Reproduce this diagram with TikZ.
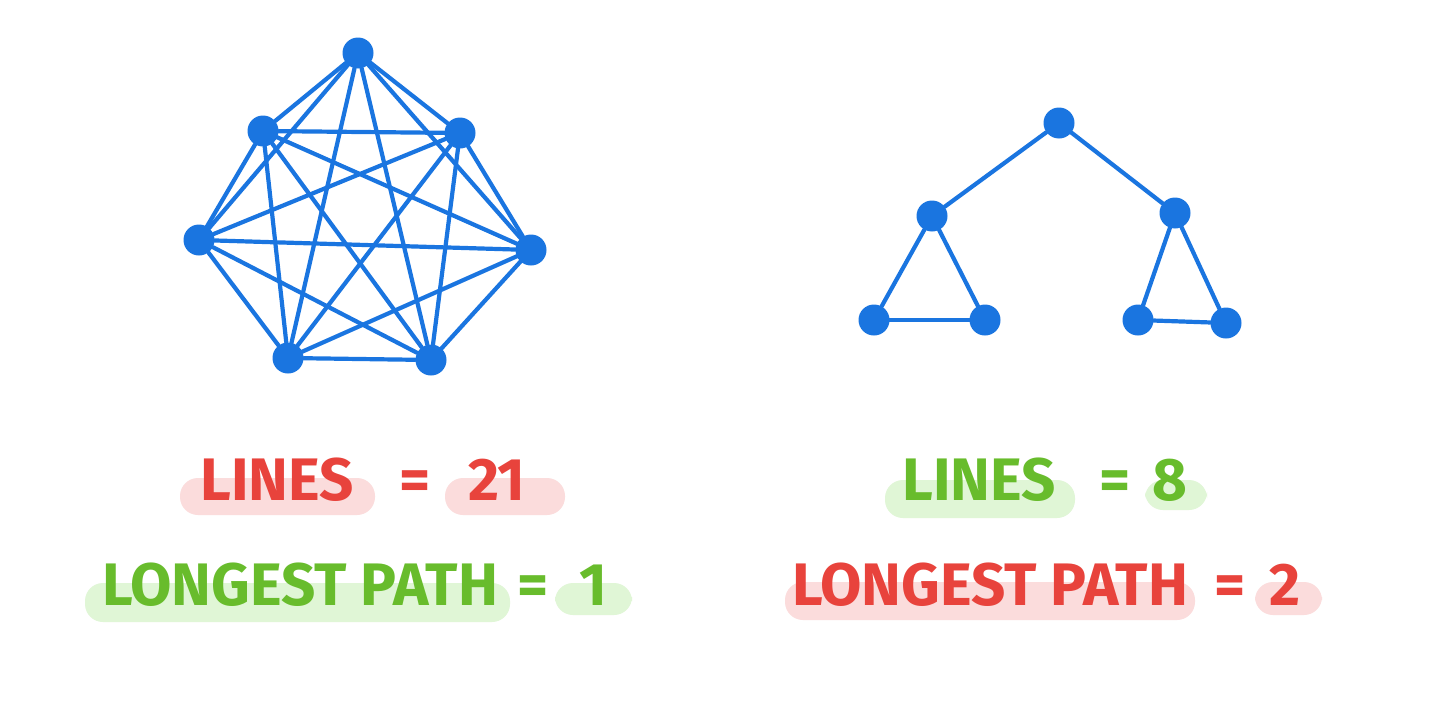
\documentclass[tikz,border=0pt]{standalone}
\usepackage{fontspec}
\setmainfont{Fira Sans}
\definecolor{gblue}{HTML}{1A75E0}
\definecolor{tred}{HTML}{E8433C}
\definecolor{tgreen}{HTML}{68BC2C}
\definecolor{hpink}{HTML}{FBDCDC}
\definecolor{hgreen}{HTML}{E0F6D6}
\begin{document}
\begin{tikzpicture}[x=1pt,y=-1pt,
  vert/.style={circle,fill=gblue,inner sep=0pt,minimum width=28pt,minimum height=31pt},
  edge/.style={gblue,line width=4.2pt,line cap=round},
  lbl/.style={font=\fontsize{60}{60}\selectfont\bfseries,inner sep=0pt,anchor=base},
  hl/.style={rounded corners=18pt}]
\useasboundingbox (0,0) rectangle (1456,720);
\fill[white] (0,0) rectangle (1456,720);
% left complete graph
\foreach \n/\x/\y in {a/358/53,b/263/131,c/460/133,d/199/240,e/531/250,f/288/358,g/431/360}
  \node[vert] (\n) at (\x,\y) {};
\foreach \u/\v in {a/b,a/c,a/d,a/e,a/f,a/g,b/c,b/d,b/e,b/f,b/g,c/d,c/e,c/f,c/g,d/e,d/f,d/g,e/f,e/g,f/g}
  \draw[edge] (\u) -- (\v);
% right tree
\foreach \n/\x/\y in {r/1059/123,p/932/216,q/1175/213,s/874/320,t/985/320,u/1138/320,v/1226/323}
  \node[vert] (\n) at (\x,\y) {};
\foreach \u/\v in {r/p,r/q,p/s,p/t,s/t,q/u,q/v,u/v}
  \draw[edge] (\u) -- (\v);
% highlights
\fill[hpink,hl] (180,478) rectangle (375,515);
\fill[hpink,hl] (445,478) rectangle (565,515);
\fill[hgreen,hl] (85,583) rectangle (510,622);
\fill[hgreen,hl] (555,583) rectangle (632,615);
\fill[hgreen,hl] (885,480) rectangle (1075,518);
\fill[hgreen,hl] (1145,480) rectangle (1207,510);
\fill[hpink,hl] (785,582) rectangle (1195,620);
\fill[hpink,hl] (1255,582) rectangle (1322,615);
% labels
\node[lbl,text=tred] (l1) at (277,500) {LINES};
\node[lbl,text=tred] (e1) at (415,500) {=};
\node[lbl,text=tred] (n1) at (497,500) {21};
\node[lbl,text=tgreen] (l2) at (300,605) {LONGEST PATH};
\node[lbl,text=tgreen] (e2) at (533,605) {=};
\node[lbl,text=tgreen] (n2) at (593,605) {1};
\node[lbl,text=tgreen] (l3) at (979,500) {LINES};
\node[lbl,text=tgreen] (e3) at (1115,500) {=};
\node[lbl,text=tgreen] (n3) at (1170,500) {8};
\node[lbl,text=tred] (l4) at (990,605) {LONGEST PATH};
\node[lbl,text=tred] (e4) at (1230,605) {=};
\node[lbl,text=tred] (n4) at (1285,605) {2};
\end{tikzpicture}
\end{document}
